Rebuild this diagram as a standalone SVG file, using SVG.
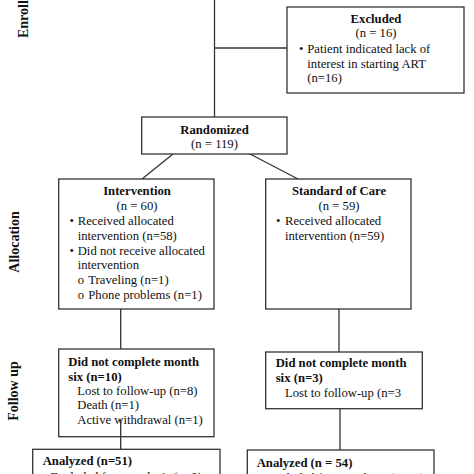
<svg xmlns="http://www.w3.org/2000/svg" width="474" height="474" viewBox="0 0 474 474">
<style>
.box{fill:#fff;stroke:#333;stroke-width:1.3}
.ln{stroke:#333;stroke-width:1.3;fill:none}
text{font-family:"Liberation Serif","Times New Roman",serif;font-size:12.7px;fill:#111}
.b{font-weight:bold}
.c{text-anchor:middle}
.side{font-weight:bold;font-size:14px;text-anchor:middle}
</style>
<rect width="474" height="474" fill="#fff"/>
<g id="side-labels">
<text class="side" style="text-anchor:start" transform="translate(28,38) rotate(-90)">Enroll</text>
<text class="side" transform="translate(18.5,242) rotate(-90)">Allocation</text>
<text class="side" transform="translate(17.5,391) rotate(-90)">Follow up</text>
</g>
<g id="connectors">
<line class="ln" x1="214.5" y1="0" x2="214.5" y2="117"/>
<line class="ln" x1="214.5" y1="48" x2="287" y2="48"/>
<line class="ln" x1="173" y1="154" x2="142" y2="179"/>
<line class="ln" x1="250" y1="154" x2="298" y2="179"/>
<line class="ln" x1="120.7" y1="309" x2="120.7" y2="349"/>
<line class="ln" x1="339" y1="309" x2="339" y2="352"/>
<line class="ln" x1="340" y1="408.7" x2="340" y2="450"/>
</g>
<g id="excluded">
<rect class="box" x="287" y="7" width="177" height="86"/>
<text class="b c" x="376" y="22.7">Excluded</text>
<text class="c" x="376" y="37.3">(n = 16)</text>
<text x="299" y="53.3">•</text>
<text x="307.3" y="53.3">Patient indicated lack of</text>
<text x="307.3" y="67.7">interest in starting ART</text>
<text x="307.3" y="82.4">(n=16)</text>
</g>
<g id="randomized">
<rect class="box" x="141.7" y="117" width="145.3" height="37"/>
<text class="b c" x="214.5" y="134">Randomized</text>
<text class="c" x="214.5" y="148">(n = 119)</text>
</g>
<g id="intervention">
<rect class="box" x="58.7" y="179" width="155.3" height="130"/>
<text class="b c" x="137" y="195">Intervention</text>
<text class="c" x="137" y="209.5">(n = 60)</text>
<text x="69.5" y="225">•</text>
<text x="77.7" y="225">Received allocated</text>
<text x="77.7" y="239.5">intervention (n=58)</text>
<text x="69.5" y="254.5">•</text>
<text x="77.7" y="254.5">Did not receive allocated</text>
<text x="77.7" y="269">intervention</text>
<text x="77.7" y="284">o</text>
<text x="88.3" y="284">Traveling (n=1)</text>
<text x="77.7" y="299">o</text>
<text x="88.3" y="299">Phone problems (n=1)</text>
</g>
<g id="standard-of-care">
<rect class="box" x="265.7" y="179" width="145.3" height="130"/>
<text class="b c" x="339" y="195">Standard of Care</text>
<text class="c" x="339" y="209.5">(n = 59)</text>
<text x="276" y="225">•</text>
<text x="285" y="225">Received allocated</text>
<text x="285" y="239.5">intervention (n=59)</text>
</g>
<g id="followup-intervention">
<rect class="box" x="58.7" y="349" width="155.3" height="87.7"/>
<text class="b" x="68.3" y="366">Did not complete month</text>
<text class="b" x="68.3" y="380.7">six (n=10)</text>
<text x="77.3" y="395">Lost to follow-up (n=8)</text>
<text x="77.3" y="409.3">Death (n=1)</text>
<text x="77.3" y="424">Active withdrawal (n=1)</text>
</g>
<line class="ln" x1="120.7" y1="419" x2="120.7" y2="449.3"/>
<g id="followup-standard">
<rect class="box" x="265.7" y="352" width="156.6" height="56.7"/>
<text class="b" x="275.7" y="367.3">Did not complete month</text>
<text class="b" x="275.7" y="382.3">six (n=3)</text>
<text x="285" y="396.7">Lost to follow-up (n=3</text>
</g>
<g id="analyzed-intervention">
<rect class="box" x="32.7" y="449.3" width="187.3" height="40"/>
<text class="b" x="42.7" y="465">Analyzed (n=51)</text>
<text x="50.5" y="480.5">Excluded from analysis (n=9)</text>
</g>
<g id="analyzed-standard">
<rect class="box" x="247.3" y="450" width="186.7" height="40"/>
<text class="b" x="256.7" y="466.7">Analyzed (n = 54)</text>
<text x="266.7" y="481.5">Excluded from analysis (n = 5)</text>
</g>
</svg>
